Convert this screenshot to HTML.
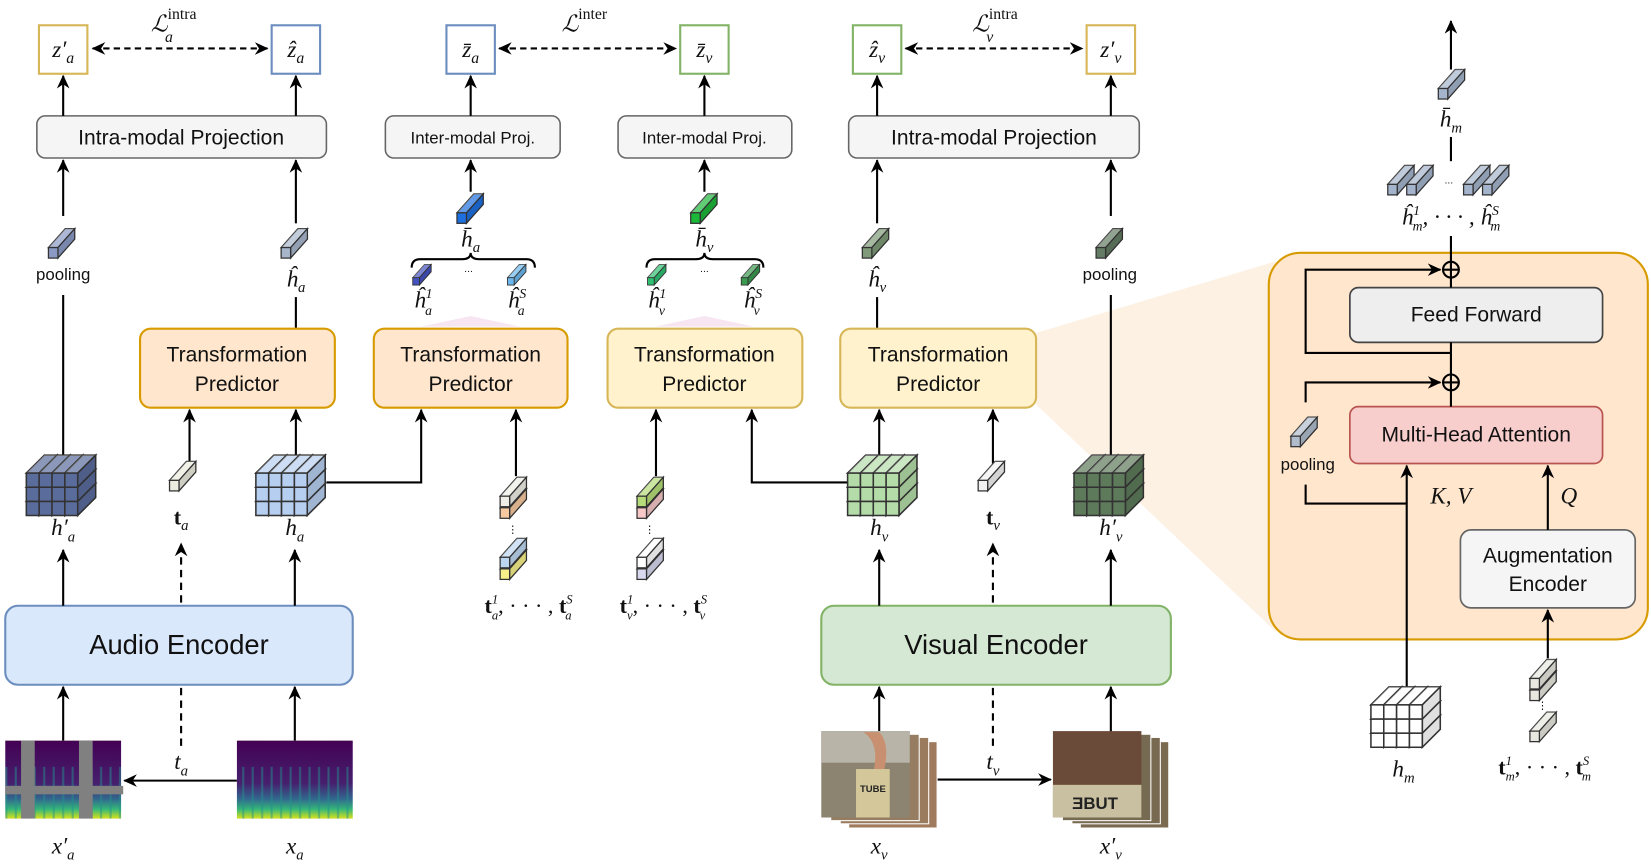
<!DOCTYPE html>
<html><head><meta charset="utf-8"><style>
html,body{margin:0;padding:0;background:#fff}
svg{display:block}
.t{font-family:"Liberation Sans",sans-serif;fill:#111;text-anchor:middle}
.m{font-family:"Liberation Serif",serif;font-style:italic;fill:#111;text-anchor:middle;font-size:22px}
.mb{font-family:"Liberation Serif",serif;fill:#111;text-anchor:middle;font-size:21px}
.ln{stroke:#000;stroke-width:2;fill:none}
</style></head><body>
<svg width="1651" height="867" viewBox="0 0 1568 823" preserveAspectRatio="none" xmlns="http://www.w3.org/2000/svg">
<defs>
<marker id="a" markerUnits="userSpaceOnUse" markerWidth="14" markerHeight="14" refX="12" refY="7" orient="auto"><path d="M0,1 L13,7 L0,13 L4,7z" fill="#000"/></marker>
<marker id="as" markerUnits="userSpaceOnUse" markerWidth="14" markerHeight="14" refX="2" refY="7" orient="auto"><path d="M14,1 L1,7 L14,13 L10,7z" fill="#000"/></marker>
<symbol id="bar" overflow="visible">
<polygon points="0,18 16,0 25,0 9,18" fill="currentColor" stroke="#333" stroke-width="1.2"/>
<polygon points="0,18 16,0 25,0 9,18" fill="#fff" opacity=".3"/>
<polygon points="9,18 25,0 25,10 9,28" fill="currentColor" stroke="#333" stroke-width="1.2"/>
<polygon points="9,18 25,0 25,10 9,28" fill="#000" opacity=".12"/>
<rect x="0" y="18" width="9" height="10" fill="currentColor" stroke="#333" stroke-width="1.2"/>
</symbol>
<symbol id="cbar" overflow="visible">
<polygon points="0,14 14,0 24,0 10,14" fill="currentColor" stroke="#333" stroke-width="1.2"/>
<polygon points="0,14 14,0 24,0 10,14" fill="#fff" opacity=".3"/>
<polygon points="10,14 24,0 24,11 10,25" fill="currentColor" stroke="#333" stroke-width="1.2"/>
<polygon points="10,14 24,0 24,11 10,25" fill="#000" opacity=".12"/>
<rect x="0" y="14" width="10" height="11" fill="currentColor" stroke="#333" stroke-width="1.2"/>
</symbol>
<symbol id="cube" overflow="visible">
<use href="#cbar" x="0" y="22"/><use href="#cbar" x="10" y="22"/><use href="#cbar" x="20" y="22"/><use href="#cbar" x="30" y="22"/>
<use href="#cbar" x="0" y="11"/><use href="#cbar" x="10" y="11"/><use href="#cbar" x="20" y="11"/><use href="#cbar" x="30" y="11"/>
<use href="#cbar" x="0" y="0"/><use href="#cbar" x="10" y="0"/><use href="#cbar" x="20" y="0"/><use href="#cbar" x="30" y="0"/>
</symbol>
<linearGradient id="spec" x1="0" y1="0" x2="0" y2="1">
<stop offset="0" stop-color="#440154"/><stop offset=".55" stop-color="#46206e"/><stop offset=".75" stop-color="#31688e"/><stop offset=".88" stop-color="#35b779"/><stop offset="1" stop-color="#d8e219"/>
</linearGradient>
<pattern id="stripes" x="0" y="703" width="9" height="74" patternUnits="userSpaceOnUse"><rect width="9" height="74" fill="url(#spec)"/><rect x="5" y="25" width="2" height="49" fill="#21918c" opacity=".5"/></pattern>
</defs>

<polygon points="984,316 1212,248 1212,600 984,384" fill="#fdf1e4"/>

<rect x="37" y="24" width="46" height="46" fill="#fff" stroke="#d6b656" stroke-width="2"/>
<rect x="258" y="24" width="46" height="46" fill="#fff" stroke="#6c8ebf" stroke-width="2"/>
<rect x="424" y="24" width="46" height="46" fill="#fff" stroke="#6c8ebf" stroke-width="2"/>
<rect x="646" y="24" width="46" height="46" fill="#fff" stroke="#82b366" stroke-width="2"/>
<rect x="810" y="24" width="46" height="46" fill="#fff" stroke="#82b366" stroke-width="2"/>
<rect x="1032" y="24" width="46" height="46" fill="#fff" stroke="#d6b656" stroke-width="2"/>
<text class="m" x="60" y="54">z′<tspan font-size="15" dy="6">a</tspan></text>
<text class="m" x="281" y="54">ẑ<tspan font-size="15" dy="6">a</tspan></text>
<text class="m" x="447" y="54">z̄<tspan font-size="15" dy="6">a</tspan></text>
<text class="m" x="669" y="54">z̄<tspan font-size="15" dy="6">v</tspan></text>
<text class="m" x="833" y="54">ẑ<tspan font-size="15" dy="6">v</tspan></text>
<text class="m" x="1055" y="54">z′<tspan font-size="15" dy="6">v</tspan></text>
<line class="ln" x1="88" y1="46" x2="254" y2="46" stroke-dasharray="6,4" marker-start="url(#as)" marker-end="url(#a)"/>
<line class="ln" x1="474" y1="46" x2="642" y2="46" stroke-dasharray="6,4" marker-start="url(#as)" marker-end="url(#a)"/>
<line class="ln" x1="860" y1="46" x2="1028" y2="46" stroke-dasharray="6,4" marker-start="url(#as)" marker-end="url(#a)"/>
<text class="m" x="165" y="30" font-size="26">ℒ<tspan font-style="normal" font-size="15" dy="-12">intra</tspan><tspan font-size="15" dx="-30" dy="22">a</tspan></text>
<text class="m" x="555" y="30" font-size="26">ℒ<tspan font-style="normal" font-size="15" dy="-12">inter</tspan></text>
<text class="m" x="945" y="30" font-size="26">ℒ<tspan font-style="normal" font-size="15" dy="-12">intra</tspan><tspan font-size="15" dx="-30" dy="22">v</tspan></text>

<rect x="35" y="110" width="275" height="40" rx="8" fill="#f5f5f5" stroke="#666" stroke-width="1.5"/>
<text class="t" x="172" y="137" font-size="20">Intra-modal Projection</text>
<rect x="366" y="110" width="166" height="40" rx="8" fill="#f5f5f5" stroke="#666" stroke-width="1.5"/>
<text class="t" x="449" y="136" font-size="16">Inter-modal Proj.</text>
<rect x="587" y="110" width="165" height="40" rx="8" fill="#f5f5f5" stroke="#666" stroke-width="1.5"/>
<text class="t" x="669" y="136" font-size="16">Inter-modal Proj.</text>
<rect x="806" y="110" width="276" height="40" rx="8" fill="#f5f5f5" stroke="#666" stroke-width="1.5"/>
<text class="t" x="944" y="137" font-size="20">Intra-modal Projection</text>

<g class="ln" marker-end="url(#a)">
<line x1="60" y1="110" x2="60" y2="72"/><line x1="281" y1="110" x2="281" y2="72"/><line x1="447" y1="110" x2="447" y2="72"/>
<line x1="669" y1="110" x2="669" y2="72"/><line x1="833" y1="110" x2="833" y2="72"/><line x1="1055" y1="110" x2="1055" y2="72"/>
<line x1="60" y1="205" x2="60" y2="152"/><line x1="281" y1="212" x2="281" y2="152"/><line x1="447" y1="182" x2="447" y2="152"/>
<line x1="669" y1="182" x2="669" y2="152"/><line x1="833" y1="212" x2="833" y2="152"/><line x1="1055" y1="205" x2="1055" y2="152"/>
</g>
<use href="#bar" x="46" y="217" color="#8a9ac4"/>
<text class="t" x="60" y="266" font-size="16">pooling</text>
<use href="#bar" x="267" y="217" color="#a8b6cc"/>
<text class="m" x="281" y="272">ĥ<tspan font-size="14" dy="5">a</tspan></text>
<use href="#bar" x="434" y="184" color="#1e6fe0"/>
<text class="m" x="447" y="234">h̄<tspan font-size="14" dy="5">a</tspan></text>
<use href="#bar" x="656" y="184" color="#1cb83a"/>
<text class="m" x="669" y="234">h̄<tspan font-size="14" dy="5">v</tspan></text>
<use href="#bar" x="819" y="217" color="#7e9a78"/>
<text class="m" x="833" y="272">ĥ<tspan font-size="14" dy="5">v</tspan></text>
<use href="#bar" x="1041" y="217" color="#647c64"/>
<text class="t" x="1054" y="266" font-size="16">pooling</text>
<path d="M391,254 q0,-8 8,-8 h40 q8,0 8,-6 q0,6 8,6 h45 q8,0 8,8" class="ln" stroke-width="1.6"/>
<path d="M614,254 q0,-8 8,-8 h39 q8,0 8,-6 q0,6 8,6 h40 q8,0 8,8" class="ln" stroke-width="1.6"/>
<g transform="translate(392,251) scale(.7)"><use href="#bar" color="#4452c0"/></g>
<g transform="translate(482,251) scale(.7)"><use href="#bar" color="#6cb8ee"/></g>
<g transform="translate(615,251) scale(.7)"><use href="#bar" color="#2ec070"/></g>
<g transform="translate(704,251) scale(.7)"><use href="#bar" color="#3a9a50"/></g>
<text class="t" x="445" y="258" font-size="10">...</text>
<text class="t" x="669" y="258" font-size="10">...</text>
<text class="m" x="402" y="292" font-size="21">ĥ<tspan font-size="13" dy="-9">1</tspan><tspan font-size="13" dx="-7" dy="16">a</tspan></text>
<text class="m" x="491" y="292" font-size="21">ĥ<tspan font-size="13" dy="-9">S</tspan><tspan font-size="13" dx="-8" dy="16">a</tspan></text>
<text class="m" x="624" y="292" font-size="21">ĥ<tspan font-size="13" dy="-9">1</tspan><tspan font-size="13" dx="-7" dy="16">v</tspan></text>
<text class="m" x="715" y="292" font-size="21">ĥ<tspan font-size="13" dy="-9">S</tspan><tspan font-size="13" dx="-8" dy="16">v</tspan></text>
<polygon points="400,310 447,300 494,310" fill="#f2d6e8" opacity=".6"/>
<polygon points="622,310 669,300 716,310" fill="#f2d6e8" opacity=".6"/>

<g class="ln">
<line x1="60" y1="280" x2="60" y2="433"/><line x1="281" y1="282" x2="281" y2="312"/>
<line x1="833" y1="282" x2="833" y2="312"/><line x1="1055" y1="280" x2="1055" y2="433"/>
</g>

<rect x="133" y="312" width="185" height="75" rx="10" fill="#ffe6cc" stroke="#d79b00" stroke-width="2"/>
<rect x="355" y="312" width="184" height="75" rx="10" fill="#ffe6cc" stroke="#d79b00" stroke-width="2"/>
<rect x="577" y="312" width="185" height="75" rx="10" fill="#fff2cc" stroke="#d6b656" stroke-width="2"/>
<rect x="798" y="312" width="186" height="75" rx="10" fill="#fff2cc" stroke="#d6b656" stroke-width="2"/>
<g class="t" font-size="20">
<text x="225" y="343">Transformation</text><text x="225" y="371">Predictor</text>
<text x="447" y="343">Transformation</text><text x="447" y="371">Predictor</text>
<text x="669" y="343">Transformation</text><text x="669" y="371">Predictor</text>
<text x="891" y="343">Transformation</text><text x="891" y="371">Predictor</text>
</g>

<g class="ln" marker-end="url(#a)">
<line x1="180" y1="440" x2="180" y2="389"/><line x1="281" y1="432" x2="281" y2="389"/>
<polyline points="310,458 400,458 400,389"/><line x1="490" y1="452" x2="490" y2="389"/>
<line x1="623" y1="452" x2="623" y2="389"/><polyline points="805,458 714,458 714,389"/>
<line x1="835" y1="432" x2="835" y2="389"/><line x1="943" y1="440" x2="943" y2="389"/>
</g>

<g transform="translate(25,432) scale(1.22)"><use href="#cube" color="#5a6c9c"/></g>
<use href="#bar" x="161" y="438" color="#ebebdf"/>
<g transform="translate(243,432) scale(1.22)"><use href="#cube" color="#b6cff0"/></g>
<g transform="translate(805,432) scale(1.22)"><use href="#cube" color="#b4dca8"/></g>
<use href="#bar" x="929" y="438" color="#f2f2f2"/>
<g transform="translate(1020,432) scale(1.22)"><use href="#cube" color="#5d7a5a"/></g>
<text class="m" x="60" y="508">h′<tspan font-size="14" dy="6">a</tspan></text>
<text class="mb" x="172" y="498" font-weight="bold">t<tspan font-weight="normal" font-style="italic" font-size="14" dy="5">a</tspan></text>
<text class="m" x="280" y="508">h<tspan font-size="14" dy="6">a</tspan></text>
<text class="m" x="835" y="508">h<tspan font-size="14" dy="6">v</tspan></text>
<text class="mb" x="943" y="498" font-weight="bold">t<tspan font-weight="normal" font-style="italic" font-size="14" dy="5">v</tspan></text>
<text class="m" x="1055" y="508">h′<tspan font-size="14" dy="6">v</tspan></text>

<use href="#bar" x="475" y="464" color="#f7c9a0"/><use href="#bar" x="475" y="453" color="#eeeee6"/>
<use href="#bar" x="475" y="522" color="#f6ef8a"/><use href="#bar" x="475" y="511" color="#bcd6f0"/>
<text class="t" x="487" y="506" font-size="10">⋮</text>
<use href="#bar" x="605" y="464" color="#f6c8c8"/><use href="#bar" x="605" y="453" color="#b5dc78"/>
<use href="#bar" x="605" y="522" color="#d8d8ee"/><use href="#bar" x="605" y="511" color="#ffffff"/>
<text class="t" x="617" y="506" font-size="10">⋮</text>
<text class="mb" x="502" y="582" font-size="20"><tspan font-weight="bold">t</tspan><tspan font-style="italic" font-size="12" dy="-9">1</tspan><tspan font-style="italic" font-size="12" dx="-6" dy="15">a</tspan><tspan dy="-6">, · · · , </tspan><tspan font-weight="bold">t</tspan><tspan font-style="italic" font-size="12" dy="-9">S</tspan><tspan font-style="italic" font-size="12" dx="-7" dy="15">a</tspan></text>
<text class="mb" x="630" y="582" font-size="20"><tspan font-weight="bold">t</tspan><tspan font-style="italic" font-size="12" dy="-9">1</tspan><tspan font-style="italic" font-size="12" dx="-6" dy="15">v</tspan><tspan dy="-6">, · · · , </tspan><tspan font-weight="bold">t</tspan><tspan font-style="italic" font-size="12" dy="-9">S</tspan><tspan font-style="italic" font-size="12" dx="-7" dy="15">v</tspan></text>

<rect x="5" y="575" width="330" height="75" rx="12" fill="#dae8fc" stroke="#6c8ebf" stroke-width="2"/>
<text class="t" x="170" y="621" font-size="26">Audio Encoder</text>
<rect x="780" y="575" width="332" height="75" rx="12" fill="#d5e8d4" stroke="#82b366" stroke-width="2"/>
<text class="t" x="946" y="621" font-size="26">Visual Encoder</text>
<g class="ln" marker-end="url(#a)">
<line x1="60" y1="575" x2="60" y2="522"/><line x1="280" y1="575" x2="280" y2="522"/>
<line x1="172" y1="572" x2="172" y2="516" stroke-dasharray="7,5"/>
<line x1="835" y1="575" x2="835" y2="522"/><line x1="1055" y1="575" x2="1055" y2="522"/>
<line x1="943" y1="572" x2="943" y2="516" stroke-dasharray="7,5"/>
<line x1="60" y1="703" x2="60" y2="652"/><line x1="280" y1="703" x2="280" y2="652"/>
<line x1="835" y1="695" x2="835" y2="652"/><line x1="1055" y1="695" x2="1055" y2="652"/>
<line x1="225" y1="741" x2="118" y2="741"/><line x1="890" y1="740" x2="998" y2="740"/>
</g>
<g class="ln" stroke-dasharray="7,5"><line x1="172" y1="653" x2="172" y2="712"/><line x1="943" y1="653" x2="943" y2="712"/></g>
<text class="m" x="172" y="730">t<tspan font-size="14" dy="6">a</tspan></text>
<text class="m" x="943" y="730">t<tspan font-size="14" dy="6">v</tspan></text>

<rect x="5" y="703" width="110" height="74" fill="url(#stripes)"/>
<rect x="20" y="703" width="13" height="74" fill="#808080"/><rect x="75" y="703" width="13" height="74" fill="#808080"/>
<rect x="5" y="746" width="112" height="8" fill="#808080"/>
<rect x="225" y="703" width="110" height="74" fill="url(#stripes)"/>
<text class="m" x="60" y="810">x′<tspan font-size="14" dy="6">a</tspan></text>
<text class="m" x="280" y="810">x<tspan font-size="14" dy="6">a</tspan></text>

<g>
<rect x="806" y="704" width="84" height="82" fill="#a07a5c" stroke="#fff"/>
<rect x="798" y="700" width="84" height="82" fill="#9a7b5e" stroke="#fff"/>
<rect x="789" y="697" width="84" height="82" fill="#967c60" stroke="#fff"/>
<rect x="780" y="694" width="84" height="82" fill="#8c8470"/>
<rect x="780" y="694" width="84" height="30" fill="#b8b4a8"/>
<rect x="813" y="730" width="32" height="46" fill="#d4c89a"/>
<path d="M820,695 q15,10 10,35 l10,0 q5,-25 -5,-35z" fill="#c89070"/>
<text x="829" y="752" font-family="Liberation Sans" font-weight="bold" font-size="9" fill="#222" text-anchor="middle">TUBE</text>
<rect x="1026" y="704" width="84" height="82" fill="#7a6a50" stroke="#fff"/>
<rect x="1018" y="700" width="84" height="82" fill="#786a50" stroke="#fff"/>
<rect x="1009" y="697" width="84" height="82" fill="#766a52" stroke="#fff"/>
<rect x="1000" y="694" width="84" height="82" fill="#6a4a38"/>
<rect x="1000" y="745" width="84" height="31" fill="#c8c0a0"/>
<text x="1040" y="768" font-family="Liberation Sans" font-weight="bold" font-size="16" fill="#222" text-anchor="middle">ƎBUT</text>
</g>
<text class="m" x="835" y="810">x<tspan font-size="14" dy="6">v</tspan></text>
<text class="m" x="1055" y="810">x′<tspan font-size="14" dy="6">v</tspan></text>

<rect x="1205" y="240" width="360" height="367" rx="30" fill="#ffe6cc" stroke="#d79b00" stroke-width="2"/>
<rect x="1282" y="273" width="240" height="52" rx="8" fill="#eeeeee" stroke="#444" stroke-width="1.6"/>
<text class="t" x="1402" y="305" font-size="20">Feed Forward</text>
<rect x="1282" y="386" width="240" height="54" rx="8" fill="#f8cecc" stroke="#b85450" stroke-width="1.6"/>
<text class="t" x="1402" y="419" font-size="20">Multi-Head Attention</text>
<rect x="1387" y="503" width="166" height="74" rx="10" fill="#f5f5f5" stroke="#666" stroke-width="1.6"/>
<text class="t" x="1470" y="534" font-size="20">Augmentation</text>
<text class="t" x="1470" y="561" font-size="20">Encoder</text>
<g class="ln">
<line x1="1378" y1="386" x2="1378" y2="325"/>
<line x1="1378" y1="273" x2="1378" y2="224"/>
<line x1="1378" y1="153" x2="1378" y2="130"/>
<circle cx="1378" cy="363" r="7.5"/><line x1="1370.5" y1="363" x2="1385.5" y2="363"/>
<circle cx="1378" cy="256" r="7.5"/><line x1="1370.5" y1="256" x2="1385.5" y2="256"/>
<polyline points="1378,335 1240,335 1240,256 1368,256" marker-end="url(#a)"/>
<polyline points="1240,382 1240,363 1368,363" marker-end="url(#a)"/>
<polyline points="1240,460 1240,478 1336,478"/>
<line x1="1336" y1="652" x2="1336" y2="442" marker-end="url(#a)"/>
<line x1="1470" y1="503" x2="1470" y2="442" marker-end="url(#a)"/>
<line x1="1470" y1="625" x2="1470" y2="579" marker-end="url(#a)"/>
<line x1="1378" y1="66" x2="1378" y2="20" marker-end="url(#a)"/>
</g>
<use href="#bar" x="1226" y="396" color="#b0bccc"/>
<text class="t" x="1242" y="446" font-size="16">pooling</text>
<text class="m" x="1378" y="478" font-size="23">K, V</text>
<text class="m" x="1490" y="478" font-size="23">Q</text>
<g transform="translate(1302,652) scale(1.22)"><use href="#cube" color="#ffffff"/></g>
<text class="m" x="1333" y="737">h<tspan font-size="14" dy="6">m</tspan></text>
<use href="#bar" x="1453" y="637" color="#e8e8e0"/><use href="#bar" x="1453" y="626" color="#e8e8e0"/>
<use href="#bar" x="1453" y="676" color="#e8e8e0"/>
<text class="t" x="1465" y="673" font-size="10">⋮</text>
<text class="mb" x="1467" y="735" font-size="20"><tspan font-weight="bold">t</tspan><tspan font-style="italic" font-size="12" dy="-9">1</tspan><tspan font-style="italic" font-size="12" dx="-6" dy="15">m</tspan><tspan dy="-6">, · · · , </tspan><tspan font-weight="bold">t</tspan><tspan font-style="italic" font-size="12" dy="-9">S</tspan><tspan font-style="italic" font-size="12" dx="-7" dy="15">m</tspan></text>
<use href="#bar" x="1318" y="157" color="#a4b4cc"/><use href="#bar" x="1336" y="157" color="#a4b4cc"/>
<use href="#bar" x="1390" y="157" color="#a4b4cc"/><use href="#bar" x="1408" y="157" color="#a4b4cc"/>
<text class="t" x="1376" y="174" font-size="10">...</text>
<text class="m" x="1378" y="213" font-size="21">ĥ<tspan font-size="13" dy="-9">1</tspan><tspan font-size="13" dx="-7" dy="15">m</tspan><tspan dy="-6">, · · · , ĥ</tspan><tspan font-size="13" dy="-9">S</tspan><tspan font-size="13" dx="-8" dy="15">m</tspan></text>
<use href="#bar" x="1366" y="66" color="#a4b4cc"/>
<text class="m" x="1378" y="120">h̄<tspan font-size="14" dy="6">m</tspan></text>
</svg>
</body></html>
